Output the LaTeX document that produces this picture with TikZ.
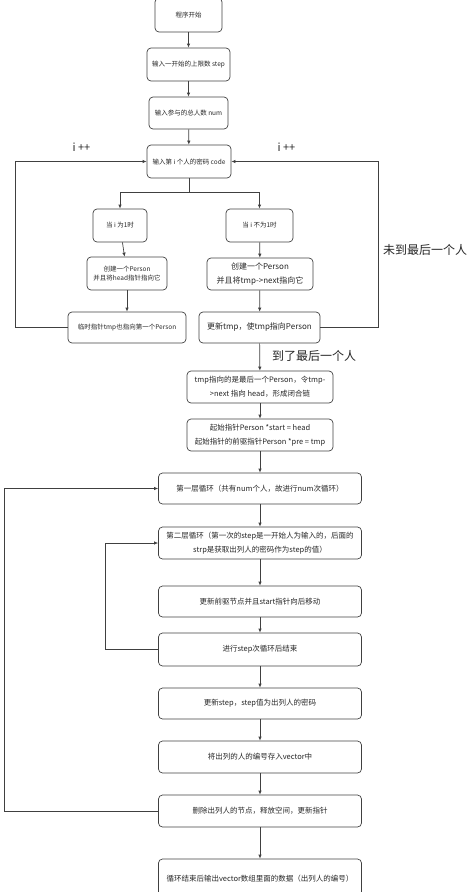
\documentclass[tikz,border=0pt]{standalone}
\usepackage{fontspec}
\setmainfont{Noto Sans CJK SC}
\usetikzlibrary{arrows.meta}
\tikzset{
  box/.style={draw=black!75, line width=0.7pt, rounded corners=4pt, align=center, inner sep=1pt, text=black!85, font=\fontsize{7.5}{14}\selectfont},
  tiny/.style={font=\fontsize{6.5}{8.5}\selectfont},
  mid/.style={font=\fontsize{8}{14}\selectfont},
  arr/.style={draw=black!75, line width=0.7pt, -{Latex[length=4pt,width=3.5pt]}},
  lbl/.style={font=\fontsize{12}{14}\selectfont, text=black!85},
}
\begin{document}
\begin{tikzpicture}[x=1pt, y=-1pt]
\useasboundingbox (0,0) rectangle (474,892);

% input part
\node[box, tiny, minimum width=67pt, minimum height=34pt] (start) at (188.5,15) {程序开始};
\node[box, tiny, minimum width=83pt, minimum height=33pt] (in1) at (188.5,64.5) {输入一开始的上限数 step};
\node[box, tiny, minimum width=79pt, minimum height=32pt] (in2) at (188.5,113) {输入参与的总人数 num};
\node[box, tiny, minimum width=84pt, minimum height=33pt] (code) at (189,161.5) {输入第 i 个人的密码 code};

% two cases
\node[box, tiny, minimum width=54pt, minimum height=33pt] (c1) at (120,225.5) {当 i 为1时};
\node[box, tiny, minimum width=67pt, minimum height=33pt] (c2) at (259.5,225.5) {当 i 不为1时};
\node[box, tiny, minimum width=80pt, minimum height=33pt] (p1) at (127,273.5) {创建一个Person\\并且将head指针指向它};
\node[box, mid, minimum width=106pt, minimum height=32pt] (p2) at (260,274) {创建一个Person\\并且将tmp->next指向它};
\node[box, tiny, minimum width=118pt, minimum height=31pt] (t1) at (127,327.5) {临时指针tmp也指向第一个Person};
\node[box, mid, minimum width=121pt, minimum height=31pt] (t2) at (259.5,327.5) {更新tmp，使tmp指向Person};

\coordinate (loopL) at (15,0);
\coordinate (loopR) at (378,0);

% closing the ring
\node[box, minimum width=146pt, minimum height=32pt] (close) at (260,387) {tmp指向的是最后一个Person，令tmp-\\>next 指向 head，形成闭合链};
\node[box, minimum width=146pt, minimum height=32pt] (ptr) at (260,435) {起始指针Person *start = head\\起始指针的前驱指针Person *pre = tmp};

% main loops
\node[box, minimum width=203pt, minimum height=31pt] (loop1) at (260,488.5) {第一层循环（共有num个人，故进行num次循环）};
\node[box, minimum width=203pt, minimum height=32pt] (loop2) at (260,543) {第二层循环（第一次的step是一开始人为输入的，后面的\\strp是获取出列人的密码作为step的值）};
\node[box, minimum width=203pt, minimum height=31pt] (upd) at (260,601.5) {更新前驱节点并且start指针向后移动};
\node[box, minimum width=203pt, minimum height=33pt] (endstep) at (260,649.5) {进行step次循环后结束};
\node[box, minimum width=203pt, minimum height=31pt] (newstep) at (260,703.5) {更新step，step值为出列人的密码};
\node[box, minimum width=203pt, minimum height=32pt] (store) at (260,757) {将出列的人的编号存入vector中};
\node[box, minimum width=203pt, minimum height=32pt] (del) at (260,811) {删除出列人的节点，释放空间，更新指针};
\node[box, minimum width=203pt, minimum height=40pt] (final) at (260,879) {循环结束后输出vector数组里面的数据（出列人的编号）};

\coordinate (innerL) at (105,0);
\coordinate (outerL) at (4,0);

% labels
\node[font=\fontsize{11}{12}\selectfont, text=black!85] (incL) at (81.5,147) {i ++};
\node[font=\fontsize{11}{12}\selectfont, text=black!85] (incR) at (286.5,147) {i ++};
\node[lbl] (notlast) at (425,250) {未到最后一个人};
\node[lbl] (islast) at (314,356) {到了最后一个人};

% arrows
\draw[arr] (start) -- (in1);
\draw[arr] (in1) -- (in2);
\draw[arr] (in2) -- (code);
\draw[arr] (code.south) -- ++(0,14) -| (c1.north);
\draw[arr] (code.south) -- ++(0,14) -| (c2.north);
\draw[arr] (c1) -- (p1);
\draw[arr] (p1) -- (t1);
\draw[arr] (c2) -- (p2);
\draw[arr] (p2) -- (t2);
\draw[arr] (t1.west) -- (t1.west -| loopL) |- (code.west);
\draw[arr] (t2.east) -- (t2.east -| loopR) |- (code.east);
\draw[arr] (t2) -- (close);
\draw[arr] (close) -- (ptr);
\draw[arr] (ptr) -- (loop1);
\draw[arr] (loop1) -- (loop2);
\draw[arr] (loop2) -- (upd);
\draw[arr] (upd) -- (endstep);
\draw[arr] (endstep) -- (newstep);
\draw[arr] (newstep) -- (store);
\draw[arr] (store) -- (del);
\draw[arr] (del) -- (final);
\draw[arr] (endstep.west) -- (endstep.west -| innerL) |- (loop2.west);
\draw[arr] (del.west) -- (del.west -| outerL) |- (loop1.west);
\end{tikzpicture}
\end{document}
